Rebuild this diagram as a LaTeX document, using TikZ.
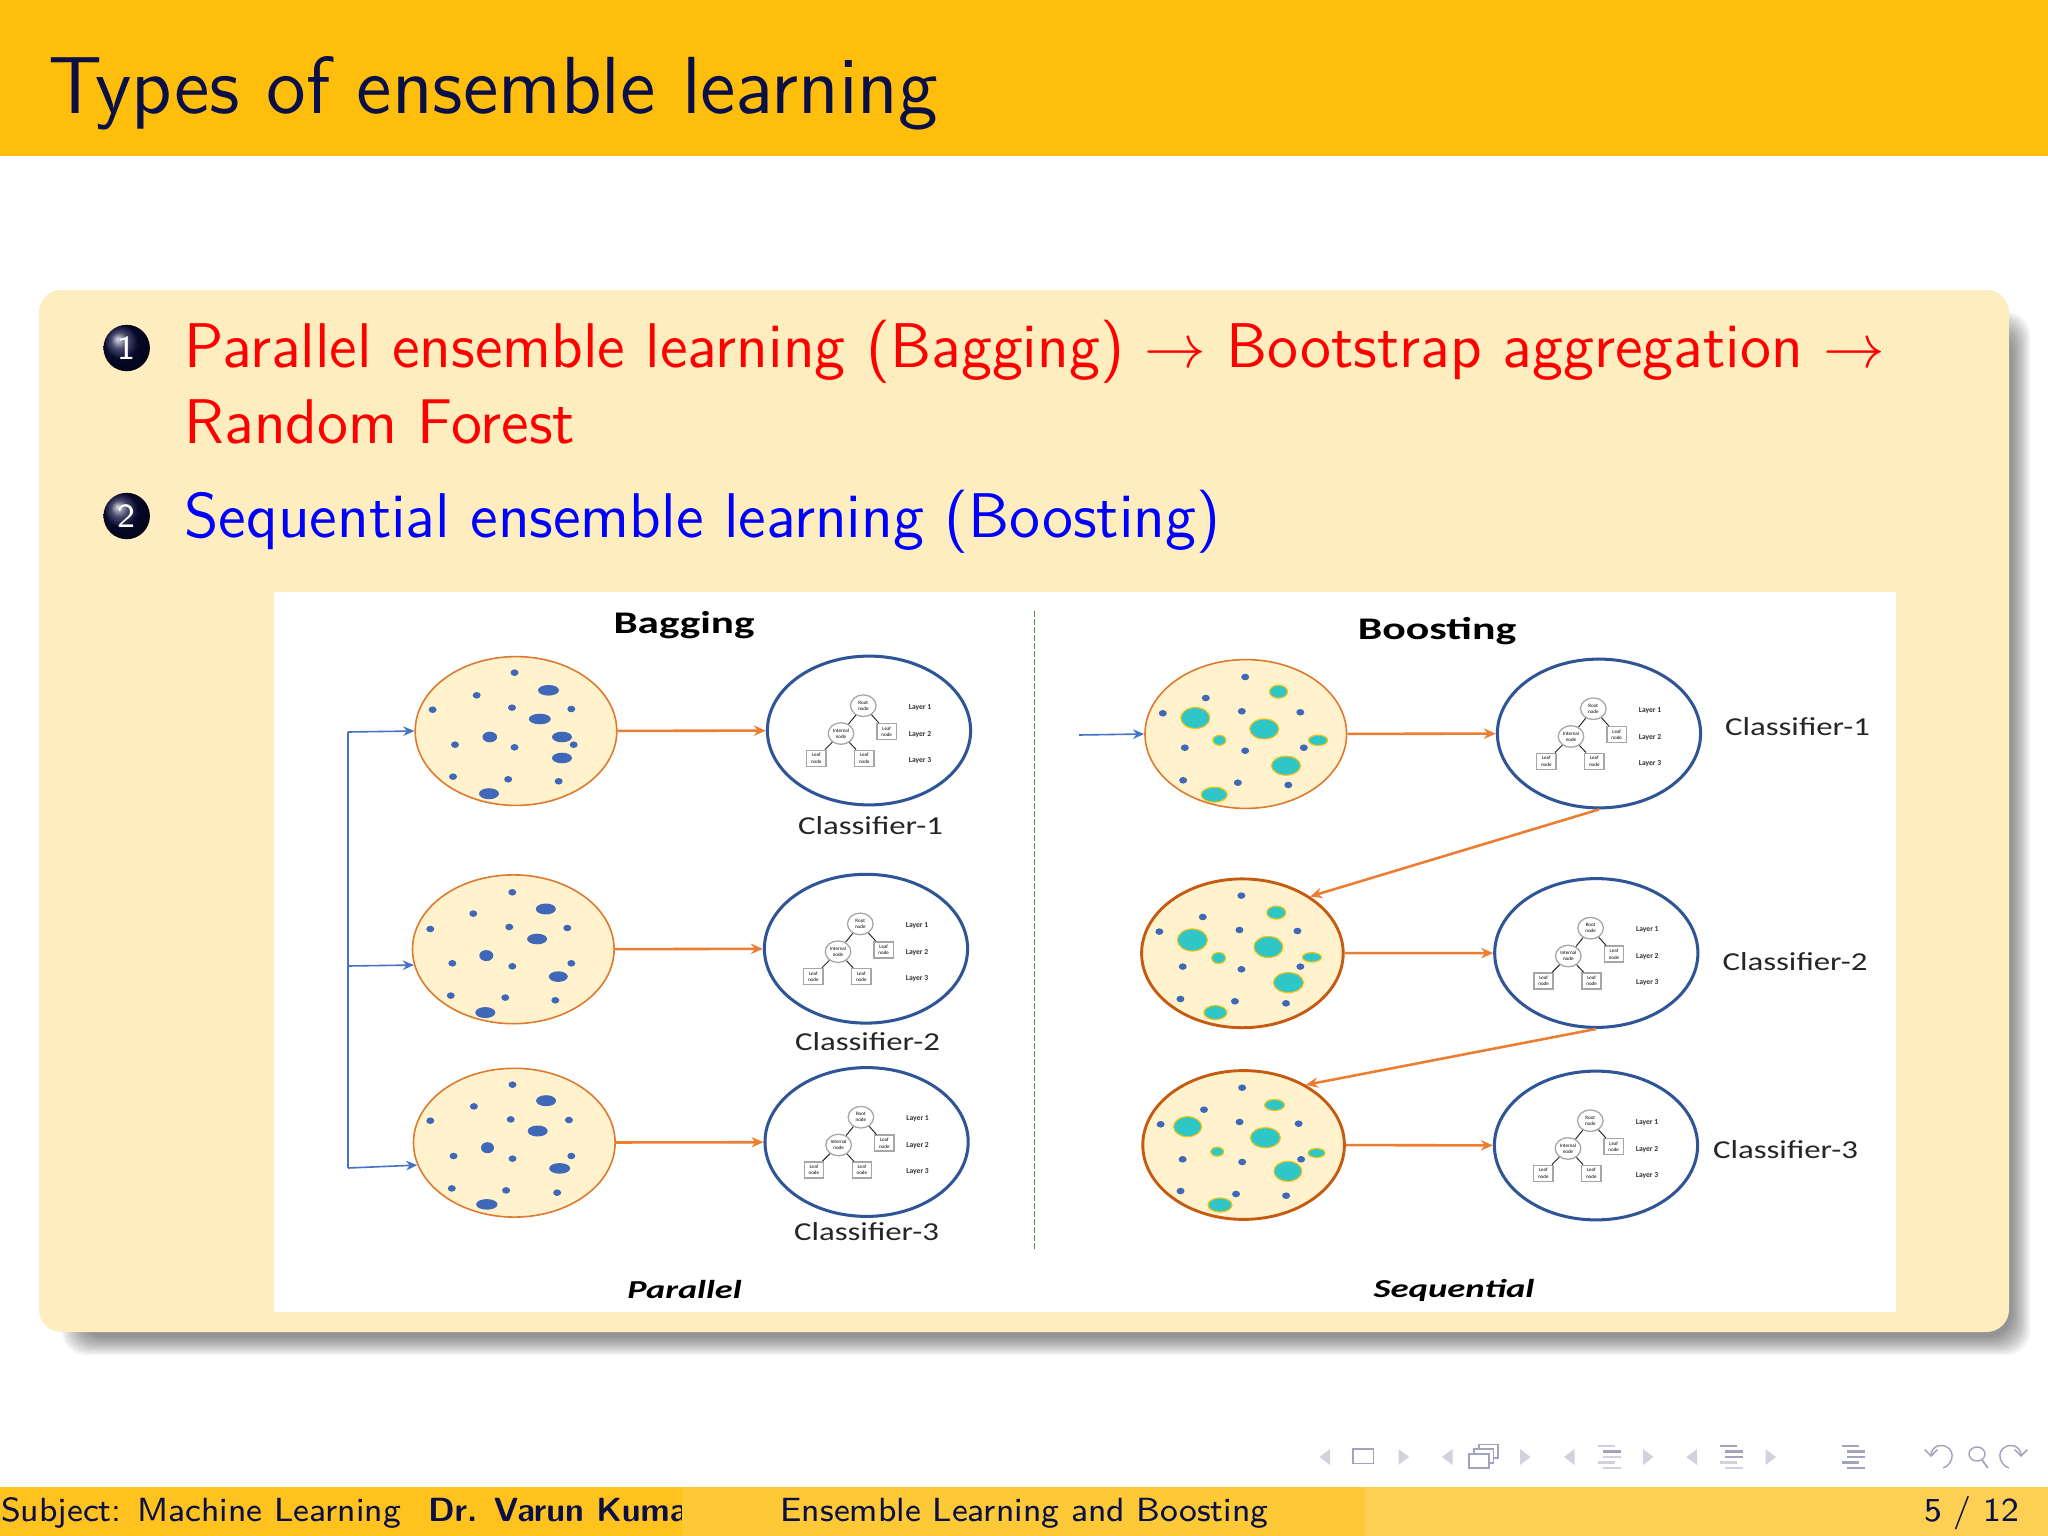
\documentclass[tikz,border=0pt]{standalone}
\usepackage{amsmath, amsfonts, amssymb}
\usepackage{fontspec}
\usepackage{graphicx}
\usepackage{xcolor}
\usepackage{tikz}
\usetikzlibrary{arrows.meta,shapes.geometric}
\newfontfamily\imgfont{Carlito}

\definecolor{titlegold}{HTML}{FFBE0B}
\definecolor{foota}{HTML}{FFC21F}
\definecolor{footb}{HTML}{FEC936}
\definecolor{footc}{HTML}{FDD053}
\definecolor{blockcream}{HTML}{FDEDBF}
\definecolor{navytext}{HTML}{0A0F45}
\definecolor{dataorange}{HTML}{DD7A30}
\definecolor{floworange}{HTML}{ED7D31}
\definecolor{darkorange}{HTML}{C55A11}
\definecolor{datafill}{HTML}{FFF2CC}
\definecolor{clfblue}{HTML}{2F5597}
\definecolor{dotblue}{HTML}{3F68B8}
\definecolor{arrowblue}{HTML}{4472C4}
\definecolor{blobteal}{HTML}{2FC6C8}
\definecolor{blobrim}{HTML}{F2C20F}
\definecolor{linegreen}{HTML}{4F9A3A}
\definecolor{navlight}{HTML}{D2D2DC}
\definecolor{navdark}{HTML}{A3A3BE}

\tikzset{
  dataset/.style={ellipse,draw=dataorange,fill=datafill,line width=0.1mm,minimum width=12.6mm,minimum height=9.3mm,inner sep=0pt},
  boostset/.style={dataset,draw=darkorange,line width=0.18mm},
  clfset/.style={ellipse,draw=clfblue,fill=white,line width=0.19mm,minimum width=12.7mm,minimum height=9.3mm,inner sep=0pt},
  flow/.style={draw=floworange,line width=0.16mm,-{Stealth[length=0.75mm,width=0.65mm]}},
  feed/.style={draw=arrowblue,line width=0.1mm,-{Stealth[length=0.7mm,width=0.6mm]}},
  bus/.style={draw=arrowblue,line width=0.1mm},
  imglabel/.style={font=\imgfont\fontsize{4.6}{6}\selectfont,text=black!85,inner sep=0pt},
  imgtitle/.style={font=\imgfont\bfseries\fontsize{5.6}{6}\selectfont,text=black,inner sep=0pt},
  imgcase/.style={font=\imgfont\bfseries\itshape\fontsize{4.6}{6}\selectfont,text=black,inner sep=0pt},
  treeround/.style={ellipse,draw=black!35,fill=white,line width=0.08mm,minimum width=1.6mm,minimum height=1.35mm,inner sep=0pt,align=center,font=\imgfont\fontsize{0.9}{1.1}\selectfont},
  treeleaf/.style={rectangle,draw=black!35,fill=white,line width=0.09mm,minimum width=1.2mm,minimum height=1mm,inner sep=0pt,align=center,font=\imgfont\fontsize{0.9}{1.1}\selectfont},
  treelayer/.style={font=\imgfont\bfseries\fontsize{1.35}{1.6}\selectfont,inner sep=0pt,text=black!80},
  treeline/.style={draw=black!85,line width=0.06mm},
  bigblob/.style={fill=blobteal,draw=blobrim,line width=0.07mm},
  bigdot/.style={fill=dotblue},
  ballitem/.style={circle,minimum size=2.9mm,inner sep=0pt,ball color=navytext!85!black,text=white,font=\sffamily\fontsize{6}{7}\selectfont},
  itemtext/.style={anchor=base west,inner sep=0pt,font=\sffamily\fontsize{11.23}{13}\selectfont},
  foottext/.style={anchor=base west,inner sep=0pt,text=navytext,font=\sffamily\fontsize{5.96}{7}\selectfont},
  navtri/.style={fill=navlight},
  navbarlight/.style={fill=navlight},
  navbardark/.style={fill=navdark},
  navline/.style={draw=navdark,line width=0.09mm,fill=white},
  navcurve/.style={draw=navdark,line width=0.09mm}
}

% the picture's labels are drawn wide
\newcommand{\widelabel}[2]{\scalebox{#1}[1]{#2}}

% small dots: dx/dy list, large ones: dx/dy/rx/ry list
\newcommand{\smalldots}[2]{\foreach \dx/\dy in {#2}{\fill[dotblue] ([shift={(\dx,\dy)}]#1.center) ellipse (4 and 3.3);}}
\newcommand{\largedots}[3]{\foreach \dx/\dy/\rx/\ry in {#3}{\path[#2] ([shift={(\dx,\dy)}]#1.center) ellipse [x radius=\rx,y radius=\ry];}}

% little decision tree inside a classifier
\newcommand{\clftree}[1]{
\node[treeround] (#1root) at ([shift={(-5.7,-24.8)}]#1.center) {Root\\node};
\node[treeround] (#1inner) at ([shift={(-28,3)}]#1.center) {Internal\\node};
\node[treeleaf] (#1leafa) at ([shift={(17.7,1.2)}]#1.center) {Leaf\\node};
\node[treeleaf] (#1leafb) at ([shift={(-52.7,27.8)}]#1.center) {Leaf\\node};
\node[treeleaf] (#1leafc) at ([shift={(-4.7,27.8)}]#1.center) {Leaf\\node};
\node[treelayer] (#1layera) at ([shift={(51,-23)}]#1.center) {Layer 1};
\node[treelayer] (#1layerb) at ([shift={(51,3.7)}]#1.center) {Layer 2};
\node[treelayer] (#1layerc) at ([shift={(51,30)}]#1.center) {Layer 3};
\draw[treeline] (#1root) -- (#1inner);
\draw[treeline] (#1root) -- (#1leafa);
\draw[treeline] (#1inner) -- (#1leafb);
\draw[treeline] (#1inner) -- (#1leafc);
}

% navigation bars: five grey strips
\newcommand{\navbars}[6]{
\fill[#2] (#1,1444.5) rectangle +(17,2.6);
\fill[#3] (#1+5,1450) rectangle +(18,2.6);
\fill[#4] (#1+5,1455.5) rectangle +(18,2.6);
\fill[#5] (#1,1461) rectangle +(17,2.6);
\fill[#6] (#1+5,1466.5) rectangle +(18,2.6);
}

\begin{document}
\begin{tikzpicture}[x=0.0625mm,y=-0.0625mm]
\useasboundingbox (0,0) rectangle (2048,1536);
\fill[white] (0,0) rectangle (2048,1536);

% title bar
\fill[titlegold] (0,0) rectangle (2048,155.5);
\node[anchor=base west,inner sep=0pt,text=navytext,font=\sffamily\fontsize{14.4}{16}\selectfont] (title) at (47,113) {Types of ensemble learning};

% block with its shadow
\foreach \k in {0,...,9}
  \fill[black,opacity=0.05,rounded corners=1.5mm] (62+2*\k,312+2*\k) rectangle (2030-2*\k,1355-2*\k);
\fill[blockcream,rounded corners=1.4mm] (39,290) rectangle (2009,1332);

\node[ballitem] (ballone) at (126.7,348) {1};
\node[ballitem] (balltwo) at (126.7,516) {2};
\node[itemtext,text=red] (parallel) at (183.5,367) {Parallel ensemble learning (Bagging) $\rightarrow$ Bootstrap aggregation $\rightarrow$};
\node[itemtext,text=red] (forest) at (183.5,443.5) {Random Forest};
\node[itemtext,text=blue] (sequential) at (183.5,537) {Sequential ensemble learning (Boosting)};

% the image
\fill[white] (274,592) rectangle (1896,1312);
\node[imgtitle] (bagtitle) at (684,625) {\widelabel{1.37}{Bagging}};
\node[imgtitle] (boosttitle) at (1437,631.5) {\widelabel{1.39}{Boosting}};
\node[imgcase] (parcase) at (684.5,1290) {\widelabel{1.4}{Parallel}};
\node[imgcase] (seqcase) at (1454,1290) {\widelabel{1.42}{Sequential}};

\coordinate (divtop) at (1034.6,611);
\coordinate (divbot) at (1034.6,1250);
\draw[linegreen,line width=0.06mm,dash pattern=on 0.35mm off 0.15mm] (divtop) -- (divbot);

% parallel side
\node[dataset] (bag1) at (516,731) {};
\node[dataset] (bag2) at (513.3,949.3) {};
\node[dataset] (bag3) at (514.3,1142.7) {};
\node[clfset] (clf1) at (869,730.5) {};
\node[clfset] (clf2) at (866,948.7) {};
\node[clfset] (clf3) at (866.6,1142) {};

\smalldots{bag1}{-1.5/-58.3,-39.3/-35.7,-83.4/-21.3,-4/-23.3,55.3/-22,-61/13.7,-1.5/16.3,57.7/13.7,-63/45.7,-7.8/48.3,42.7/50.3}
\largedots{bag1}{bigdot}{32.5/-40.7/10.5/5.3,23.8/-12/11/5.3,-26.2/6/7.3/5.3,46/6/10/5.3,46/27/10/5.3,-27/62.7/10/5.5}
\smalldots{bag2}{-1/-57,-40/-35.7,-83/-20.3,-4/-22.3,54/-21.3,-61/14,-1/17,58/14,-62.5/46.3,-8/48.3,42/51}
\largedots{bag2}{bigdot}{32.5/-40.3/10/5.5,23.8/-10.3/10/5.3,-27/6.3/7/5.5,45/27.3/9.5/5.3,-28/63.3/10/5.5}
\smalldots{bag3}{-1.8/-58,-40.4/-36.3,-84/-22,-3.6/-23.3,54.6/-22.7,-60.7/13.3,-1.8/16,57/13.3,-62.5/45.7,-8.2/47.7,42.9/50}
\largedots{bag3}{bigdot}{31.8/-42/10/5.5,23.4/-11.7/10/5.5,-26.8/5/6.5/5.5,45.4/25.7/10.5/5.3,-27.5/61.7/10.7/5.3}

\clftree{clf1}
\clftree{clf2}
\clftree{clf3}

\node[imglabel] (lab1) at (870.5,826) {\widelabel{1.27}{Classifier-1}};
\node[imglabel] (lab2) at (867.5,1042) {\widelabel{1.27}{Classifier-2}};
\node[imglabel] (lab3) at (866.5,1232) {\widelabel{1.27}{Classifier-3}};

\draw[flow] (bag1) -- (clf1);
\draw[flow] (bag2) -- (clf2);
\draw[flow] (bag3) -- (clf3);

\coordinate (bus1) at (348,732);
\coordinate (bus2) at (348,966);
\coordinate (bus3) at (348,1168);
\draw[bus] (bus1) -- (bus3);
\draw[feed] (bus1) -- (bag1.west);
\draw[feed] (bus2) -- (bag2.189);
\draw[feed] (bus3) -- (bag3.193);

% sequential side
\node[dataset] (seq1) at (1245.8,734) {};
\node[boostset] (seq2) at (1242.4,953.3) {};
\node[boostset] (seq3) at (1243.6,1145) {};
\node[clfset] (boost1) at (1599,733.5) {};
\node[clfset] (boost2) at (1596.3,953) {};
\node[clfset] (boost3) at (1596,1145.5) {};

\smalldots{seq1}{-0.6/-57,-40/-36,-83/-20.7,-4/-22.7,54.5/-21.7,-61/13.7,-0.6/16.7,58/13.7,-62.6/46.3,-8/48.7,42.5/51}
\largedots{seq1}{bigblob}{32.7/-42.3/9/6.5,-50.5/-16/14.5/10.5,18.4/-5/14.5/10,-26.4/6.3/6.5/5,72.3/6.3/9.5/5.2,40.2/31.7/14.5/9.5,-31.6/60.7/13/7.5}
\smalldots{seq2}{-1/-57.7,-39.6/-36.3,-83/-21.7,-3/-23.3,55/-22.3,-59.7/13.3,-1/16,58/13.3,-62/45.7,-7.5/48,43.6/50}
\largedots{seq2}{bigblob}{33.9/-40.7/9.5/6.5,-50/-13.3/15/11,26/-6.3/14.5/10.5,-23.8/4.7/7/5.5,69.5/4/9.5/4.7,46/29.3/15/10,-27/59.3/11.5/7}
\smalldots{seq3}{-1.4/-57.3,-39.6/-35.3,-83/-20.7,-4/-23,55/-21.3,-61/14.3,-1.4/17,57.5/14.3,-63/46,-7.5/49,42.5/50.7}
\largedots{seq3}{bigblob}{31/-40/10/5.5,-56/-18.3/14/10,21.8/-7.3/15/10,-26.4/6.7/6.5/4.5,72.9/8/8.5/4.5,44.3/26.3/14/10,-23.6/60/12/7}

\clftree{boost1}
\clftree{boost2}
\clftree{boost3}

\node[imglabel] (blab1) at (1797.5,727) {\widelabel{1.27}{Classifier-1}};
\node[imglabel] (blab2) at (1795,962) {\widelabel{1.27}{Classifier-2}};
\node[imglabel] (blab3) at (1785.5,1150) {\widelabel{1.27}{Classifier-3}};

\draw[flow] (seq1) -- (boost1);
\draw[flow] (seq2) -- (boost2);
\draw[flow] (seq3) -- (boost3);
\draw[flow] (boost1.south) -- (seq2.40);
\draw[flow] (boost2.south) -- (seq3.44);

\coordinate (seqin) at (1079,735);
\draw[feed] (seqin) -- (seq1.west);

% navigation symbols
\foreach \xa in {1319.5,1442,1564,1686.5}
  \fill[navtri] (\xa,1457) -- (\xa+10.5,1449) -- (\xa+10.5,1465) -- cycle;
\foreach \xa in {1398.5,1520,1643,1765.5}
  \fill[navtri] (\xa+10.5,1457) -- (\xa,1449) -- (\xa,1465) -- cycle;
\draw[navline] (1353,1449) rectangle (1373.5,1463.5);
\draw[navline] (1479,1444.5) rectangle (1498,1458);
\draw[navline] (1474,1449) rectangle (1493.5,1463);
\draw[navline] (1469,1454) rectangle (1489,1468);
\navbars{1598}{navbarlight}{navbardark}{navbarlight}{navbarlight}{navbarlight}
\navbars{1719.5}{navbardark}{navbardark}{navbardark}{navbarlight}{navbarlight}
\navbars{1842}{navbardark}{navbardark}{navbardark}{navbardark}{navbardark}
\draw[navcurve,-{Straight Barb[length=0.4mm,width=0.8mm]}] (1943,1468) .. controls (1955,1464) and (1956,1446) .. (1941,1445.5) .. controls (1935,1445.5) and (1931,1450) .. (1931,1457);
\draw[navcurve] (1977,1454) ellipse (8 and 7);
\draw[navdark,line width=0.11mm] (1982,1460) -- (1988,1468);
\draw[navcurve,-{Straight Barb[length=0.4mm,width=0.8mm]}] (2009,1468) .. controls (1997,1464) and (1996,1446) .. (2011,1445.5) .. controls (2017,1445.5) and (2021,1450) .. (2021,1457);

% footer, the middle part cuts the name off
\fill[foota] (0,1487) rectangle (682,1536);
\node[foottext] (subject) at (0,1521) {Subject: Machine Learning};
\node[foottext,font=\sffamily\bfseries\fontsize{5.96}{7}\selectfont] (speaker) at (427,1521) {Dr. Varun Kuma};
\fill[footb] (682,1487) rectangle (1365,1536);
\fill[footc] (1365,1487) rectangle (2048,1536);
\node[foottext] (talk) at (779.5,1521) {Ensemble Learning and Boosting};
\node[foottext] (pageno) at (1923,1521) {5 / 12};
\end{tikzpicture}
\end{document}
